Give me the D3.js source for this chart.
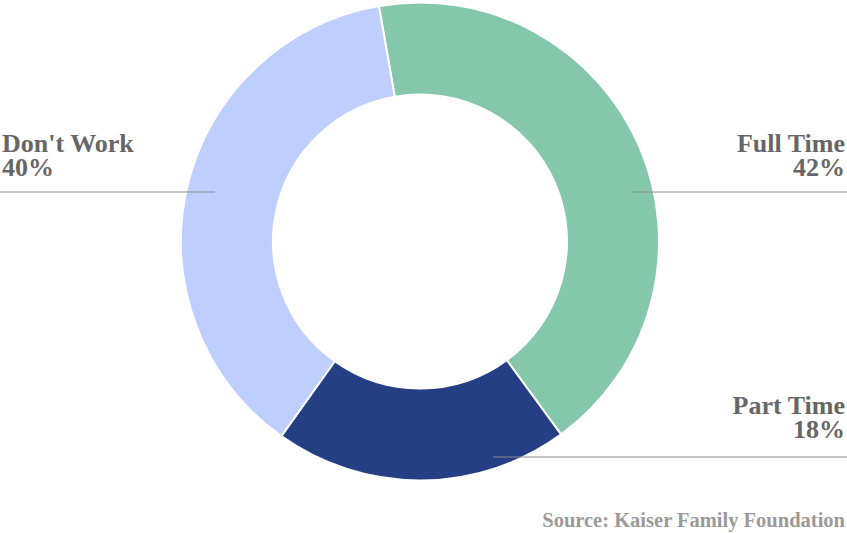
<!DOCTYPE html>
<html>
<head>
<meta charset="utf-8">
<script src="https://cdn.jsdelivr.net/npm/d3@7"></script>
<style>
    html, body { margin: 0; padding: 0; background: #fff; }
    svg { display: block; }
</style>
</head>
<body>
<svg id="chart"></svg>
<script>
// slice sizes as drawn, labels as printed
const categories = ["Full Time", "Part Time", "Don't Work"]
const values = [42.7, 19.9, 37.4]
const percentLabels = ["42%", "18%", "40%"]
const colors = ["#85c7aa", "#253f85", "#becefe"]
const source = "Source: Kaiser Family Foundation"

const width = 847
const height = 533
const cx = 420
const cy = 241.5
const outerRadius = 239
const innerRadius = 147
const startAngle = -9.9 * Math.PI / 180
const fontFamily = "'Liberation Serif', 'Times New Roman', serif"

const svg = d3.select("#chart")
    .attr("width", width)
    .attr("height", height)
    .attr("viewBox", [0, 0, width, height])

const data = categories.map((c, i) => ({category: c, value: values[i], label: percentLabels[i], color: colors[i]}))

const pie = d3.pie()
    .value(d => d.value)
    .sort(null)
    .startAngle(startAngle)
    .endAngle(startAngle + 2 * Math.PI)

const arc = d3.arc()
    .innerRadius(innerRadius)
    .outerRadius(outerRadius)

svg.append("g")
    .attr("transform", `translate(${cx}, ${cy})`)
    .selectAll("path")
    .data(pie(data))
    .join("path")
    .attr("d", arc)
    .attr("fill", d => d.data.color)
    .attr("stroke", "#fff")
    .attr("stroke-width", 2)

// label layout: side, baseline of first line, leader line y and x range
const labelLayout = {
    "Full Time": {anchor: "end", x: 845, y: 152, lineY: 192, x1: 632, x2: 847},
    "Part Time": {anchor: "end", x: 845, y: 414, lineY: 457, x1: 493, x2: 847},
    "Don't Work": {anchor: "start", x: 2, y: 152, lineY: 192, x1: 0, x2: 215},
}

const labels = svg.append("g")
    .selectAll("g")
    .data(data)
    .join("g")

labels.append("line")
    .attr("x1", d => labelLayout[d.category].x1)
    .attr("x2", d => labelLayout[d.category].x2)
    .attr("y1", d => labelLayout[d.category].lineY)
    .attr("y2", d => labelLayout[d.category].lineY)
    .attr("stroke", "#8c8c8c")
    .attr("stroke-width", 1.2)

const labelText = labels.append("text")
    .attr("text-anchor", d => labelLayout[d.category].anchor)
    .attr("fill", "#666")
    .attr("font-family", fontFamily)
    .attr("font-weight", "bold")
    .attr("font-size", 26)

labelText.append("tspan")
    .attr("x", d => labelLayout[d.category].x)
    .attr("y", d => labelLayout[d.category].y)
    .text(d => d.category)

labelText.append("tspan")
    .attr("x", d => labelLayout[d.category].x)
    .attr("y", d => labelLayout[d.category].y + 24)
    .text(d => d.label)

svg.append("text")
    .attr("x", 845)
    .attr("y", 527)
    .attr("text-anchor", "end")
    .attr("fill", "#9a9a9a")
    .attr("font-family", fontFamily)
    .attr("font-weight", "bold")
    .attr("font-size", 20.5)
    .text(source)
</script>
</body>
</html>
